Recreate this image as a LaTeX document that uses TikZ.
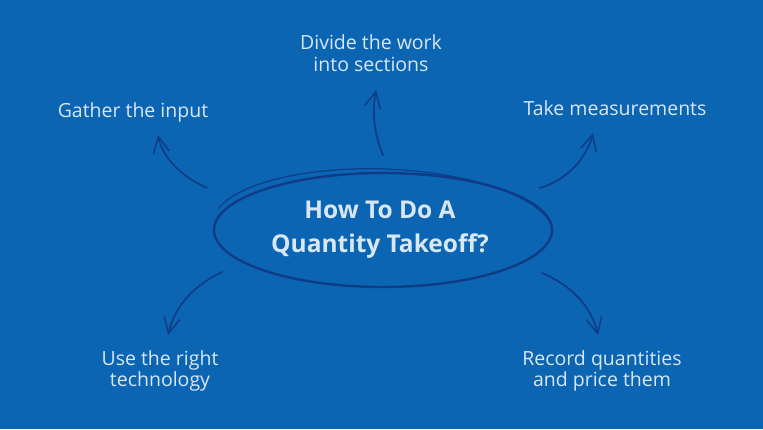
\documentclass[tikz,border=0pt]{standalone}
\usepackage{fontspec}
\setmainfont{Open Sans}
\usetikzlibrary{arrows.meta}
\definecolor{bgblue}{HTML}{0B65B3}
\definecolor{inkblue}{HTML}{0F3C86}
\definecolor{chalk}{HTML}{D8E7F4}
\tikzset{
  step label/.style={text=chalk, font=\fontsize{19.5}{21.5}\selectfont, align=center},
  title label/.style={text=chalk, font=\bfseries\fontsize{24.5}{34}\selectfont, align=center},
  sketch arrow/.style={draw=inkblue, line width=1.7pt, line cap=round,
    -{Straight Barb[length=16pt,width=16pt,line width=1.5pt]}},
}
\begin{document}
\begin{tikzpicture}[x=1pt,y=-1pt]
			\fill[bgblue] (0,0) rectangle (763,429);
			\useasboundingbox (0,0) rectangle (763,429);
			% centre ellipse, drawn twice for the sketchy look
			\draw[inkblue, line width=2.4pt] (383,230) ellipse [x radius=169, y radius=57];
			\draw[inkblue, line width=1.2pt, rotate around={-2:(383,230)}] (383,230) ++(-165:171 and 61) arc [start angle=-165, end angle=-15, x radius=171, y radius=61];
			\node[title label] (title) at (380,230) {How To Do A\\Quantity Takeoff?};
			% the five steps
			\node[step label] (gather) at (133,112) {Gather the input};
			\node[step label] (divide) at (371,53) {Divide the work\\into sections};
			\node[step label] (measure) at (615,108) {Take measurements};
			\node[step label] (tech) at (160,371) {Use the right\\technology};
			\node[step label] (record) at (602,371) {Record quantities\\and price them};
			% arrow ends
			\coordinate (gather-s) at (207,188);
			\coordinate (gather-e) at (158,135);
			\coordinate (divide-s) at (383,155);
			\coordinate (divide-e) at (376,90);
			\coordinate (measure-s) at (540,188);
			\coordinate (measure-e) at (593,133);
			\coordinate (tech-s) at (222,272);
			\coordinate (tech-e) at (168,335);
			\coordinate (record-s) at (542,273);
			\coordinate (record-e) at (598,335);
			\draw[sketch arrow] (gather-s) .. controls (180,176) and (162,156) .. (gather-e);
			\draw[sketch arrow] (divide-s) .. controls (374,135) and (372,110) .. (divide-e);
			\draw[sketch arrow] (measure-s) .. controls (566,180) and (586,160) .. (measure-e);
			\draw[sketch arrow] (tech-s) .. controls (195,285) and (175,305) .. (tech-e);
			\draw[sketch arrow] (record-s) .. controls (570,285) and (591,305) .. (record-e);
		\end{tikzpicture}
\end{document}
